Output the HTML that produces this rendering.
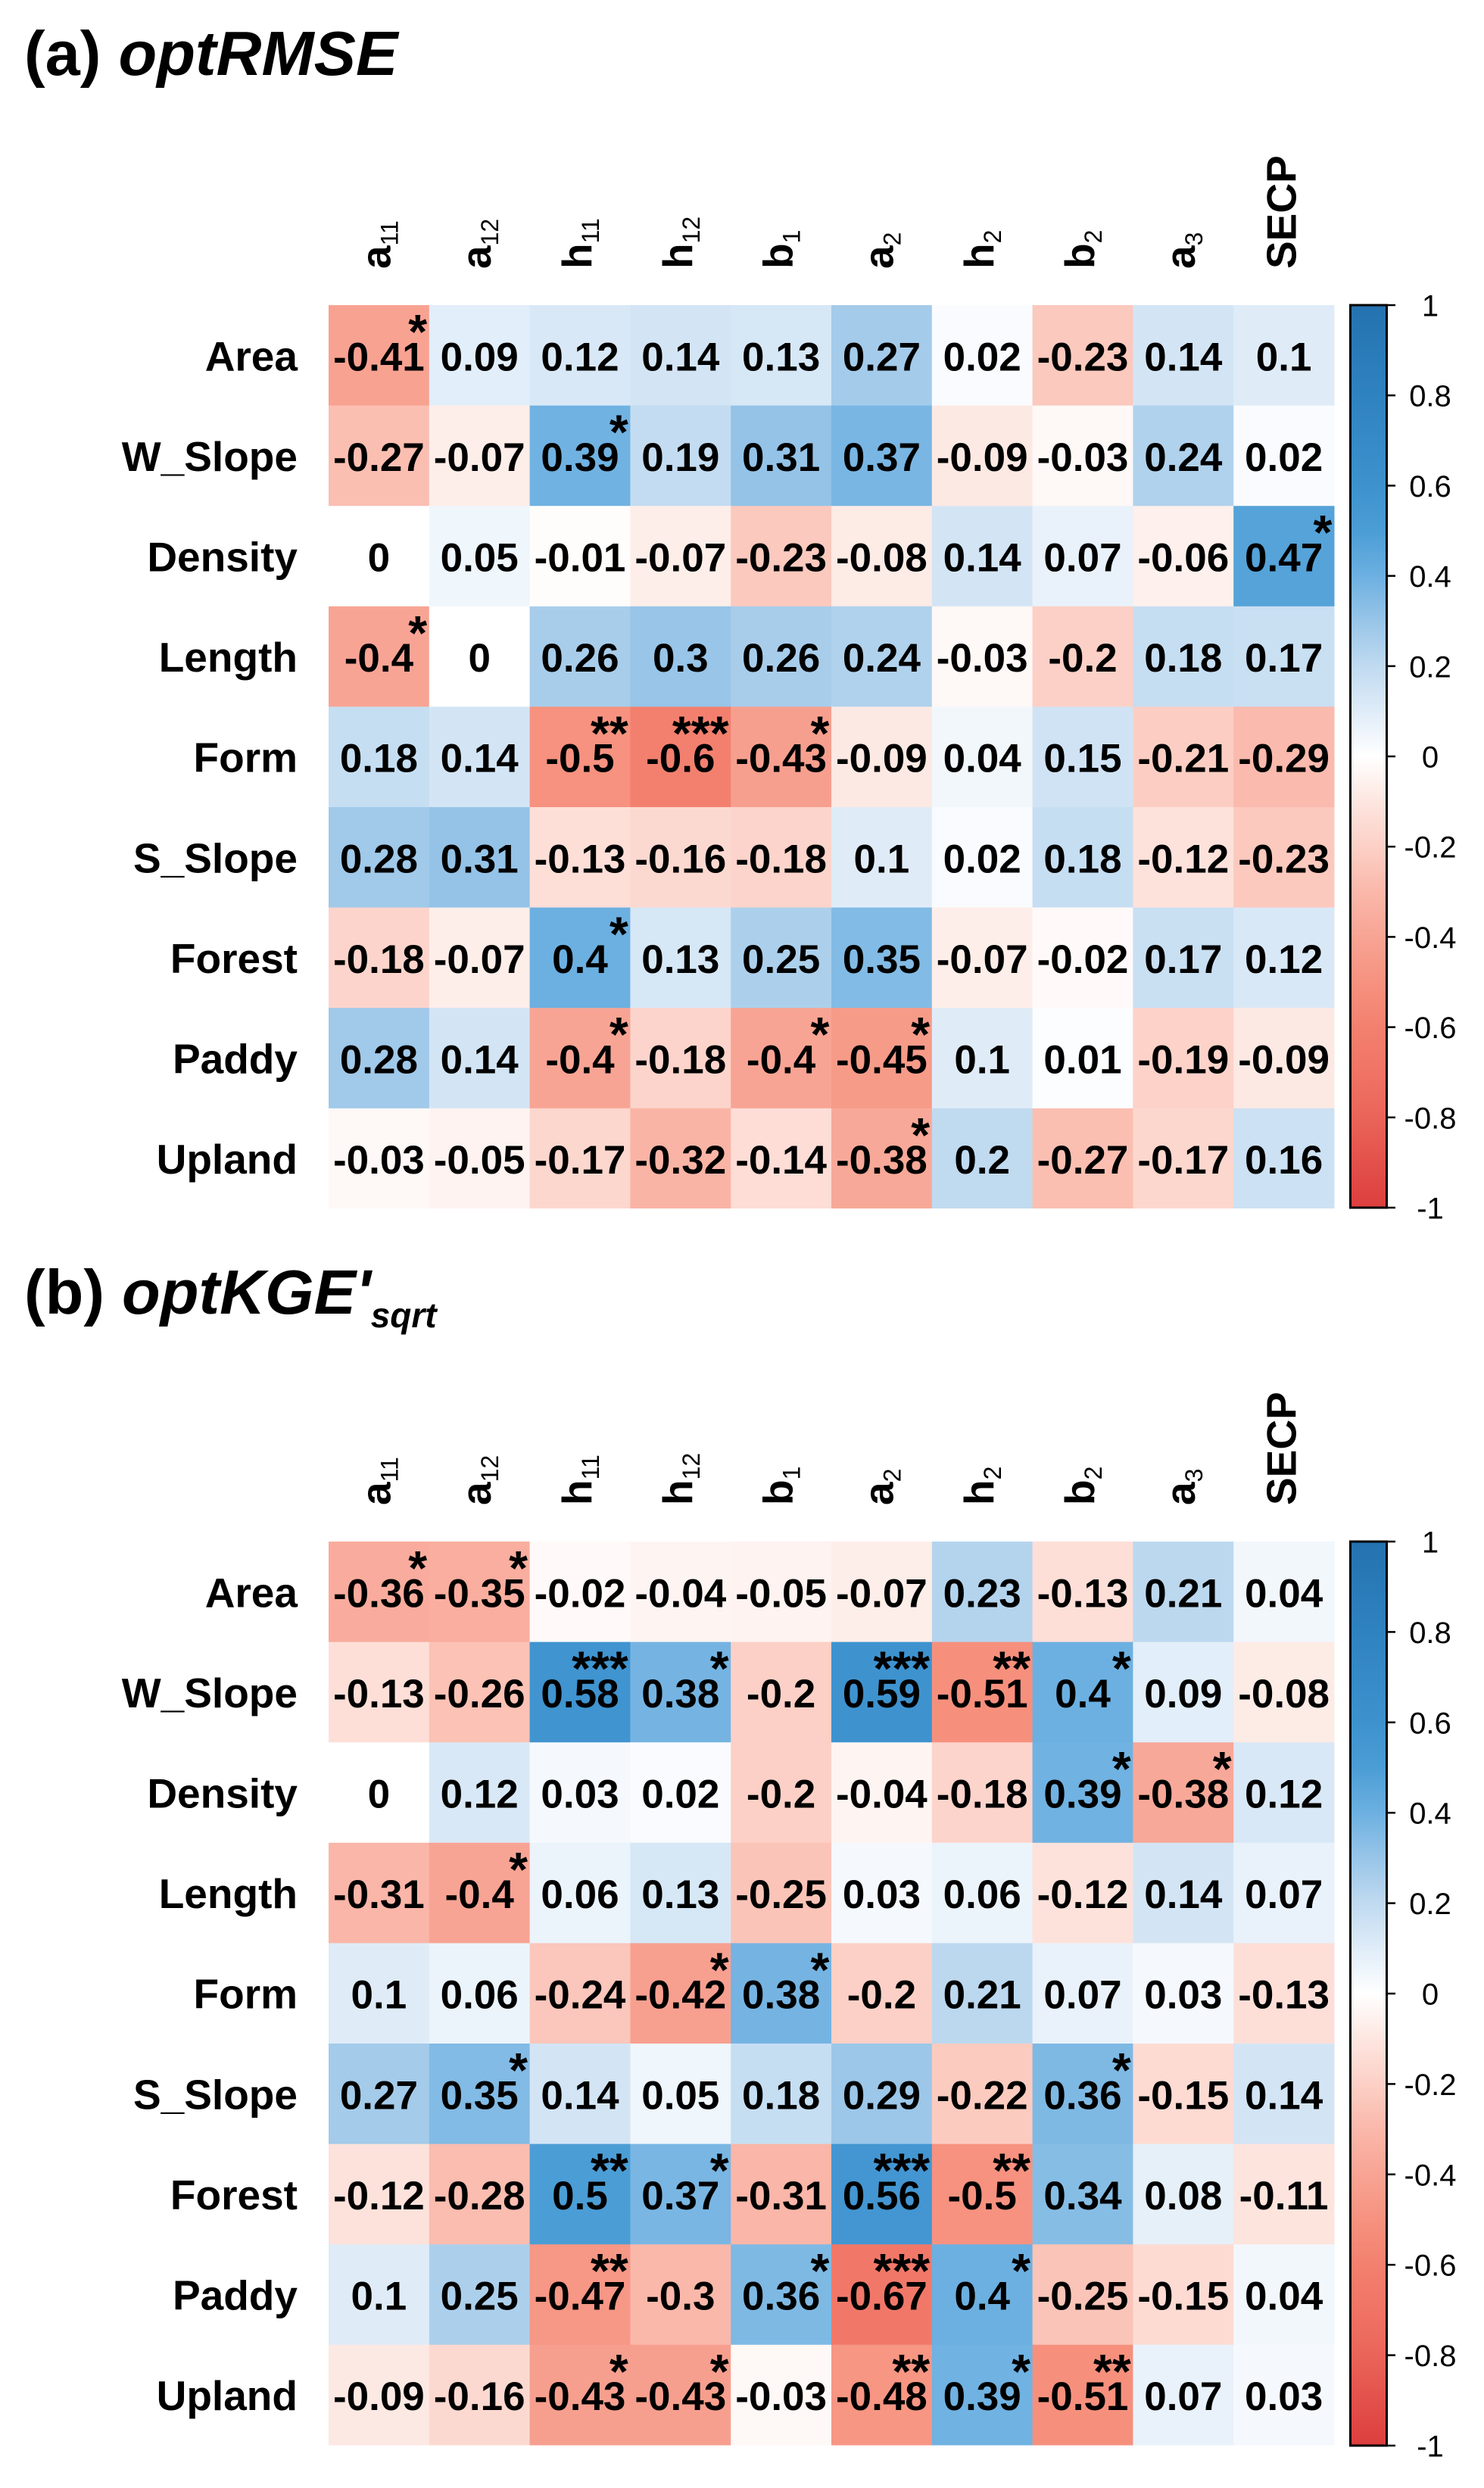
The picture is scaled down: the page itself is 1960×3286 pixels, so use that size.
<!DOCTYPE html>
<html><head><meta charset="utf-8"><style>
html,body{margin:0;padding:0;background:#fff;}
svg{display:block;}
text{font-family:"Liberation Sans",Arial,sans-serif;fill:#000;}
.v{font-size:53px;font-weight:bold;text-anchor:middle;}
.s{font-size:64px;font-weight:bold;text-anchor:end;}
.r{font-size:55px;font-weight:bold;text-anchor:end;}
.c{font-size:55px;font-weight:bold;}
.c tspan{font-size:32px;font-weight:normal;}
.t{font-size:40px;text-anchor:middle;}
.ti{font-size:83px;font-weight:bold;}
</style></head><body>
<svg width="1960" height="3286" viewBox="0 0 1960 3286" xmlns="http://www.w3.org/2000/svg">
<defs>
<linearGradient id="cb" x1="0" y1="0" x2="0" y2="1">
<stop offset="0" stop-color="#2472b0"/><stop offset="0.1" stop-color="#2f82c0"/><stop offset="0.2" stop-color="#3d92ce"/><stop offset="0.25" stop-color="#4b9dd5"/><stop offset="0.3" stop-color="#6cb0e1"/><stop offset="0.35" stop-color="#98c5e8"/><stop offset="0.4" stop-color="#c0daf0"/><stop offset="0.45" stop-color="#dfecf8"/><stop offset="0.5" stop-color="#ffffff"/><stop offset="0.55" stop-color="#fde6e0"/><stop offset="0.6" stop-color="#fcd0c6"/><stop offset="0.65" stop-color="#fab8aa"/><stop offset="0.7" stop-color="#f8a494"/><stop offset="0.75" stop-color="#f6927f"/><stop offset="0.8" stop-color="#f3806f"/><stop offset="0.85" stop-color="#f07466"/><stop offset="0.9" stop-color="#ea6459"/><stop offset="1" stop-color="#dc3e3e"/>
</linearGradient>
</defs>
<rect width="1960" height="3286" fill="#fff"/>

<!-- ================= PANEL A ================= -->
<text class="ti" x="32" y="99">(a) <tspan font-style="italic">optRMSE</tspan></text>

<text class="c" transform="translate(515.4,355) rotate(-90)">a<tspan dy="10">11</tspan></text>
<text class="c" transform="translate(648.2,355) rotate(-90)">a<tspan dy="10">12</tspan></text>
<text class="c" transform="translate(781,355) rotate(-90)">h<tspan dy="10">11</tspan></text>
<text class="c" transform="translate(913.8,355) rotate(-90)">h<tspan dy="10">12</tspan></text>
<text class="c" transform="translate(1046.6,355) rotate(-90)">b<tspan dy="10">1</tspan></text>
<text class="c" transform="translate(1179.4,355) rotate(-90)">a<tspan dy="10">2</tspan></text>
<text class="c" transform="translate(1312.2,355) rotate(-90)">h<tspan dy="10">2</tspan></text>
<text class="c" transform="translate(1445,355) rotate(-90)">b<tspan dy="10">2</tspan></text>
<text class="c" transform="translate(1577.8,355) rotate(-90)">a<tspan dy="10">3</tspan></text>
<text class="c" transform="translate(1711.6,355) rotate(-90)">SECP</text>

<g transform="translate(0,403)">
<rect x="434" width="133.3" height="133.3" fill="#f8a292"/><rect x="566.8" width="133.3" height="133.3" fill="#e2eef9"/><rect x="699.6" width="133.3" height="133.3" fill="#d9e8f6"/><rect x="832.4" width="133.3" height="133.3" fill="#d3e5f5"/><rect x="965.2" width="133.3" height="133.3" fill="#d6e7f6"/><rect x="1098" width="133.3" height="133.3" fill="#a4cbea"/><rect x="1230.8" width="133.3" height="133.3" fill="#f9fbfe"/><rect x="1363.6" width="133.3" height="133.3" fill="#fbc9be"/><rect x="1496.4" width="133.3" height="133.3" fill="#d3e5f5"/><rect x="1629.2" width="133.3" height="133.3" fill="#dfecf8"/>
<text class="r" x="393" y="86.3">Area</text>
<text class="v" x="500.4" y="86.3">-0.41</text><text class="v" x="633.2" y="86.3">0.09</text><text class="v" x="766" y="86.3">0.12</text><text class="v" x="898.8" y="86.3">0.14</text><text class="v" x="1031.6" y="86.3">0.13</text><text class="v" x="1164.4" y="86.3">0.27</text><text class="v" x="1297.2" y="86.3">0.02</text><text class="v" x="1430" y="86.3">-0.23</text><text class="v" x="1562.8" y="86.3">0.14</text><text class="v" x="1695.6" y="86.3">0.1</text>
<text class="s" x="564.2" y="57">*</text>
</g>

<g transform="translate(0,535.6)">
<rect x="434" width="133.3" height="133.3" fill="#fbbfb2"/><rect x="566.8" width="133.3" height="133.3" fill="#feeee9"/><rect x="699.6" width="133.3" height="133.3" fill="#70b2e2"/><rect x="832.4" width="133.3" height="133.3" fill="#c3dcf1"/><rect x="965.2" width="133.3" height="133.3" fill="#94c3e7"/><rect x="1098" width="133.3" height="133.3" fill="#79b6e3"/><rect x="1230.8" width="133.3" height="133.3" fill="#fde9e3"/><rect x="1363.6" width="133.3" height="133.3" fill="#fef8f6"/><rect x="1496.4" width="133.3" height="133.3" fill="#b0d2ed"/><rect x="1629.2" width="133.3" height="133.3" fill="#f9fbfe"/>
<text class="r" x="393" y="86.3">W_Slope</text>
<text class="v" x="500.4" y="86.3">-0.27</text><text class="v" x="633.2" y="86.3">-0.07</text><text class="v" x="766" y="86.3">0.39</text><text class="v" x="898.8" y="86.3">0.19</text><text class="v" x="1031.6" y="86.3">0.31</text><text class="v" x="1164.4" y="86.3">0.37</text><text class="v" x="1297.2" y="86.3">-0.09</text><text class="v" x="1430" y="86.3">-0.03</text><text class="v" x="1562.8" y="86.3">0.24</text><text class="v" x="1695.6" y="86.3">0.02</text>
<text class="s" x="829.8" y="57">*</text>
</g>

<g transform="translate(0,668.2)">
<rect x="434" width="133.3" height="133.3" fill="#ffffff"/><rect x="566.8" width="133.3" height="133.3" fill="#eff6fc"/><rect x="699.6" width="133.3" height="133.3" fill="#fffdfc"/><rect x="832.4" width="133.3" height="133.3" fill="#feeee9"/><rect x="965.2" width="133.3" height="133.3" fill="#fbc9be"/><rect x="1098" width="133.3" height="133.3" fill="#fdebe6"/><rect x="1230.8" width="133.3" height="133.3" fill="#d3e5f5"/><rect x="1363.6" width="133.3" height="133.3" fill="#e9f2fa"/><rect x="1496.4" width="133.3" height="133.3" fill="#fef0ec"/><rect x="1629.2" width="133.3" height="133.3" fill="#55a3d9"/>
<text class="r" x="393" y="86.3">Density</text>
<text class="v" x="500.4" y="86.3">0</text><text class="v" x="633.2" y="86.3">0.05</text><text class="v" x="766" y="86.3">-0.01</text><text class="v" x="898.8" y="86.3">-0.07</text><text class="v" x="1031.6" y="86.3">-0.23</text><text class="v" x="1164.4" y="86.3">-0.08</text><text class="v" x="1297.2" y="86.3">0.14</text><text class="v" x="1430" y="86.3">0.07</text><text class="v" x="1562.8" y="86.3">-0.06</text><text class="v" x="1695.6" y="86.3">0.47</text>
<text class="s" x="1759.4" y="57">*</text>
</g>

<g transform="translate(0,800.8)">
<rect x="434" width="133.3" height="133.3" fill="#f8a494"/><rect x="566.8" width="133.3" height="133.3" fill="#ffffff"/><rect x="699.6" width="133.3" height="133.3" fill="#a8cdeb"/><rect x="832.4" width="133.3" height="133.3" fill="#98c5e8"/><rect x="965.2" width="133.3" height="133.3" fill="#a8cdeb"/><rect x="1098" width="133.3" height="133.3" fill="#b0d2ed"/><rect x="1230.8" width="133.3" height="133.3" fill="#fef8f6"/><rect x="1363.6" width="133.3" height="133.3" fill="#fcd0c6"/><rect x="1496.4" width="133.3" height="133.3" fill="#c6def2"/><rect x="1629.2" width="133.3" height="133.3" fill="#c9dff2"/>
<text class="r" x="393" y="86.3">Length</text>
<text class="v" x="500.4" y="86.3">-0.4</text><text class="v" x="633.2" y="86.3">0</text><text class="v" x="766" y="86.3">0.26</text><text class="v" x="898.8" y="86.3">0.3</text><text class="v" x="1031.6" y="86.3">0.26</text><text class="v" x="1164.4" y="86.3">0.24</text><text class="v" x="1297.2" y="86.3">-0.03</text><text class="v" x="1430" y="86.3">-0.2</text><text class="v" x="1562.8" y="86.3">0.18</text><text class="v" x="1695.6" y="86.3">0.17</text>
<text class="s" x="564.2" y="57">*</text>
</g>

<g transform="translate(0,933.4)">
<rect x="434" width="133.3" height="133.3" fill="#c6def2"/><rect x="566.8" width="133.3" height="133.3" fill="#d3e5f5"/><rect x="699.6" width="133.3" height="133.3" fill="#f6927f"/><rect x="832.4" width="133.3" height="133.3" fill="#f3806f"/><rect x="965.2" width="133.3" height="133.3" fill="#f79f8e"/><rect x="1098" width="133.3" height="133.3" fill="#fde9e3"/><rect x="1230.8" width="133.3" height="133.3" fill="#f2f7fc"/><rect x="1363.6" width="133.3" height="133.3" fill="#d0e3f4"/><rect x="1496.4" width="133.3" height="133.3" fill="#fccec3"/><rect x="1629.2" width="133.3" height="133.3" fill="#fabaad"/>
<text class="r" x="393" y="86.3">Form</text>
<text class="v" x="500.4" y="86.3">0.18</text><text class="v" x="633.2" y="86.3">0.14</text><text class="v" x="766" y="86.3">-0.5</text><text class="v" x="898.8" y="86.3">-0.6</text><text class="v" x="1031.6" y="86.3">-0.43</text><text class="v" x="1164.4" y="86.3">-0.09</text><text class="v" x="1297.2" y="86.3">0.04</text><text class="v" x="1430" y="86.3">0.15</text><text class="v" x="1562.8" y="86.3">-0.21</text><text class="v" x="1695.6" y="86.3">-0.29</text>
<text class="s" x="829.8" y="57">**</text><text class="s" x="962.6" y="57">***</text><text class="s" x="1095.4" y="57">*</text>
</g>

<g transform="translate(0,1066)">
<rect x="434" width="133.3" height="133.3" fill="#a0c9ea"/><rect x="566.8" width="133.3" height="133.3" fill="#94c3e7"/><rect x="699.6" width="133.3" height="133.3" fill="#fddfd8"/><rect x="832.4" width="133.3" height="133.3" fill="#fcd9d0"/><rect x="965.2" width="133.3" height="133.3" fill="#fcd4cb"/><rect x="1098" width="133.3" height="133.3" fill="#dfecf8"/><rect x="1230.8" width="133.3" height="133.3" fill="#f9fbfe"/><rect x="1363.6" width="133.3" height="133.3" fill="#c6def2"/><rect x="1496.4" width="133.3" height="133.3" fill="#fde2db"/><rect x="1629.2" width="133.3" height="133.3" fill="#fbc9be"/>
<text class="r" x="393" y="86.3">S_Slope</text>
<text class="v" x="500.4" y="86.3">0.28</text><text class="v" x="633.2" y="86.3">0.31</text><text class="v" x="766" y="86.3">-0.13</text><text class="v" x="898.8" y="86.3">-0.16</text><text class="v" x="1031.6" y="86.3">-0.18</text><text class="v" x="1164.4" y="86.3">0.1</text><text class="v" x="1297.2" y="86.3">0.02</text><text class="v" x="1430" y="86.3">0.18</text><text class="v" x="1562.8" y="86.3">-0.12</text><text class="v" x="1695.6" y="86.3">-0.23</text>
</g>

<g transform="translate(0,1198.6)">
<rect x="434" width="133.3" height="133.3" fill="#fcd4cb"/><rect x="566.8" width="133.3" height="133.3" fill="#feeee9"/><rect x="699.6" width="133.3" height="133.3" fill="#6cb0e1"/><rect x="832.4" width="133.3" height="133.3" fill="#d6e7f6"/><rect x="965.2" width="133.3" height="133.3" fill="#acd0ec"/><rect x="1098" width="133.3" height="133.3" fill="#82bbe5"/><rect x="1230.8" width="133.3" height="133.3" fill="#feeee9"/><rect x="1363.6" width="133.3" height="133.3" fill="#fffaf9"/><rect x="1496.4" width="133.3" height="133.3" fill="#c9dff2"/><rect x="1629.2" width="133.3" height="133.3" fill="#d9e8f6"/>
<text class="r" x="393" y="86.3">Forest</text>
<text class="v" x="500.4" y="86.3">-0.18</text><text class="v" x="633.2" y="86.3">-0.07</text><text class="v" x="766" y="86.3">0.4</text><text class="v" x="898.8" y="86.3">0.13</text><text class="v" x="1031.6" y="86.3">0.25</text><text class="v" x="1164.4" y="86.3">0.35</text><text class="v" x="1297.2" y="86.3">-0.07</text><text class="v" x="1430" y="86.3">-0.02</text><text class="v" x="1562.8" y="86.3">0.17</text><text class="v" x="1695.6" y="86.3">0.12</text>
<text class="s" x="829.8" y="57">*</text>
</g>

<g transform="translate(0,1331.2)">
<rect x="434" width="133.3" height="133.3" fill="#a0c9ea"/><rect x="566.8" width="133.3" height="133.3" fill="#d3e5f5"/><rect x="699.6" width="133.3" height="133.3" fill="#f8a494"/><rect x="832.4" width="133.3" height="133.3" fill="#fcd4cb"/><rect x="965.2" width="133.3" height="133.3" fill="#f8a494"/><rect x="1098" width="133.3" height="133.3" fill="#f79b89"/><rect x="1230.8" width="133.3" height="133.3" fill="#dfecf8"/><rect x="1363.6" width="133.3" height="133.3" fill="#fcfdfe"/><rect x="1496.4" width="133.3" height="133.3" fill="#fcd2c9"/><rect x="1629.2" width="133.3" height="133.3" fill="#fde9e3"/>
<text class="r" x="393" y="86.3">Paddy</text>
<text class="v" x="500.4" y="86.3">0.28</text><text class="v" x="633.2" y="86.3">0.14</text><text class="v" x="766" y="86.3">-0.4</text><text class="v" x="898.8" y="86.3">-0.18</text><text class="v" x="1031.6" y="86.3">-0.4</text><text class="v" x="1164.4" y="86.3">-0.45</text><text class="v" x="1297.2" y="86.3">0.1</text><text class="v" x="1430" y="86.3">0.01</text><text class="v" x="1562.8" y="86.3">-0.19</text><text class="v" x="1695.6" y="86.3">-0.09</text>
<text class="s" x="829.8" y="57">*</text><text class="s" x="1095.4" y="57">*</text><text class="s" x="1228.2" y="57">*</text>
</g>

<g transform="translate(0,1463.8)">
<rect x="434" width="133.3" height="132.3" fill="#fef8f6"/><rect x="566.8" width="133.3" height="132.3" fill="#fef3f0"/><rect x="699.6" width="133.3" height="132.3" fill="#fcd7ce"/><rect x="832.4" width="133.3" height="132.3" fill="#fab4a6"/><rect x="965.2" width="133.3" height="132.3" fill="#fdddd6"/><rect x="1098" width="133.3" height="132.3" fill="#f8a898"/><rect x="1230.8" width="133.3" height="132.3" fill="#c0daf0"/><rect x="1363.6" width="133.3" height="132.3" fill="#fbbfb2"/><rect x="1496.4" width="133.3" height="132.3" fill="#fcd7ce"/><rect x="1629.2" width="133.3" height="132.3" fill="#cce1f3"/>
<text class="r" x="393" y="86.3">Upland</text>
<text class="v" x="500.4" y="86.3">-0.03</text><text class="v" x="633.2" y="86.3">-0.05</text><text class="v" x="766" y="86.3">-0.17</text><text class="v" x="898.8" y="86.3">-0.32</text><text class="v" x="1031.6" y="86.3">-0.14</text><text class="v" x="1164.4" y="86.3">-0.38</text><text class="v" x="1297.2" y="86.3">0.2</text><text class="v" x="1430" y="86.3">-0.27</text><text class="v" x="1562.8" y="86.3">-0.17</text><text class="v" x="1695.6" y="86.3">0.16</text>
<text class="s" x="1228.2" y="57">*</text>
</g>

<!-- colorbar a -->
<rect x="1783.5" y="403" width="48" height="1192" fill="url(#cb)" stroke="#000" stroke-width="3"/>
<g stroke="#000" stroke-width="2.5">
<line x1="1832" y1="403" x2="1843" y2="403"/><line x1="1832" y1="522.2" x2="1843" y2="522.2"/><line x1="1832" y1="641.4" x2="1843" y2="641.4"/><line x1="1832" y1="760.6" x2="1843" y2="760.6"/><line x1="1832" y1="879.8" x2="1843" y2="879.8"/><line x1="1832" y1="999" x2="1843" y2="999"/><line x1="1832" y1="1118.2" x2="1843" y2="1118.2"/><line x1="1832" y1="1237.4" x2="1843" y2="1237.4"/><line x1="1832" y1="1356.6" x2="1843" y2="1356.6"/><line x1="1832" y1="1475.8" x2="1843" y2="1475.8"/><line x1="1832" y1="1595" x2="1843" y2="1595"/>
</g>
<text class="t" x="1889" y="417.5">1</text><text class="t" x="1889" y="536.7">0.8</text><text class="t" x="1889" y="655.9">0.6</text><text class="t" x="1889" y="775.1">0.4</text><text class="t" x="1889" y="894.3">0.2</text><text class="t" x="1889" y="1013.5">0</text><text class="t" x="1889" y="1132.7">-0.2</text><text class="t" x="1889" y="1251.9">-0.4</text><text class="t" x="1889" y="1371.1">-0.6</text><text class="t" x="1889" y="1490.3">-0.8</text><text class="t" x="1889" y="1609.5">-1</text>

<!-- ================= PANEL B ================= -->
<text class="ti" x="32" y="1735">(b) <tspan font-style="italic">optKGE'</tspan><tspan font-style="italic" font-size="46" dy="18">sqrt</tspan></text>

<text class="c" transform="translate(515.4,1988) rotate(-90)">a<tspan dy="10">11</tspan></text>
<text class="c" transform="translate(648.2,1988) rotate(-90)">a<tspan dy="10">12</tspan></text>
<text class="c" transform="translate(781,1988) rotate(-90)">h<tspan dy="10">11</tspan></text>
<text class="c" transform="translate(913.8,1988) rotate(-90)">h<tspan dy="10">12</tspan></text>
<text class="c" transform="translate(1046.6,1988) rotate(-90)">b<tspan dy="10">1</tspan></text>
<text class="c" transform="translate(1179.4,1988) rotate(-90)">a<tspan dy="10">2</tspan></text>
<text class="c" transform="translate(1312.2,1988) rotate(-90)">h<tspan dy="10">2</tspan></text>
<text class="c" transform="translate(1445,1988) rotate(-90)">b<tspan dy="10">2</tspan></text>
<text class="c" transform="translate(1577.8,1988) rotate(-90)">a<tspan dy="10">3</tspan></text>
<text class="c" transform="translate(1711.6,1988) rotate(-90)">SECP</text>

<g transform="translate(0,2036)">
<rect x="434" width="133.3" height="133.3" fill="#f9ac9d"/><rect x="566.8" width="133.3" height="133.3" fill="#f9ae9f"/><rect x="699.6" width="133.3" height="133.3" fill="#fffaf9"/><rect x="832.4" width="133.3" height="133.3" fill="#fef5f3"/><rect x="965.2" width="133.3" height="133.3" fill="#fef3f0"/><rect x="1098" width="133.3" height="133.3" fill="#feeee9"/><rect x="1230.8" width="133.3" height="133.3" fill="#b4d4ee"/><rect x="1363.6" width="133.3" height="133.3" fill="#fddfd8"/><rect x="1496.4" width="133.3" height="133.3" fill="#bcd8ef"/><rect x="1629.2" width="133.3" height="133.3" fill="#f2f7fc"/>
<text class="r" x="393" y="86.3">Area</text>
<text class="v" x="500.4" y="86.3">-0.36</text><text class="v" x="633.2" y="86.3">-0.35</text><text class="v" x="766" y="86.3">-0.02</text><text class="v" x="898.8" y="86.3">-0.04</text><text class="v" x="1031.6" y="86.3">-0.05</text><text class="v" x="1164.4" y="86.3">-0.07</text><text class="v" x="1297.2" y="86.3">0.23</text><text class="v" x="1430" y="86.3">-0.13</text><text class="v" x="1562.8" y="86.3">0.21</text><text class="v" x="1695.6" y="86.3">0.04</text>
<text class="s" x="564.2" y="57">*</text><text class="s" x="697" y="57">*</text>
</g>

<g transform="translate(0,2168.6)">
<rect x="434" width="133.3" height="133.3" fill="#fddfd8"/><rect x="566.8" width="133.3" height="133.3" fill="#fbc2b5"/><rect x="699.6" width="133.3" height="133.3" fill="#4094cf"/><rect x="832.4" width="133.3" height="133.3" fill="#75b4e2"/><rect x="965.2" width="133.3" height="133.3" fill="#fcd0c6"/><rect x="1098" width="133.3" height="133.3" fill="#3e93cf"/><rect x="1230.8" width="133.3" height="133.3" fill="#f6907d"/><rect x="1363.6" width="133.3" height="133.3" fill="#6cb0e1"/><rect x="1496.4" width="133.3" height="133.3" fill="#e2eef9"/><rect x="1629.2" width="133.3" height="133.3" fill="#fdebe6"/>
<text class="r" x="393" y="86.3">W_Slope</text>
<text class="v" x="500.4" y="86.3">-0.13</text><text class="v" x="633.2" y="86.3">-0.26</text><text class="v" x="766" y="86.3">0.58</text><text class="v" x="898.8" y="86.3">0.38</text><text class="v" x="1031.6" y="86.3">-0.2</text><text class="v" x="1164.4" y="86.3">0.59</text><text class="v" x="1297.2" y="86.3">-0.51</text><text class="v" x="1430" y="86.3">0.4</text><text class="v" x="1562.8" y="86.3">0.09</text><text class="v" x="1695.6" y="86.3">-0.08</text>
<text class="s" x="829.8" y="57">***</text><text class="s" x="962.6" y="57">*</text><text class="s" x="1228.2" y="57">***</text><text class="s" x="1361" y="57">**</text><text class="s" x="1493.8" y="57">*</text>
</g>

<g transform="translate(0,2301.2)">
<rect x="434" width="133.3" height="133.3" fill="#ffffff"/><rect x="566.8" width="133.3" height="133.3" fill="#d9e8f6"/><rect x="699.6" width="133.3" height="133.3" fill="#f5f9fd"/><rect x="832.4" width="133.3" height="133.3" fill="#f9fbfe"/><rect x="965.2" width="133.3" height="133.3" fill="#fcd0c6"/><rect x="1098" width="133.3" height="133.3" fill="#fef5f3"/><rect x="1230.8" width="133.3" height="133.3" fill="#fcd4cb"/><rect x="1363.6" width="133.3" height="133.3" fill="#70b2e2"/><rect x="1496.4" width="133.3" height="133.3" fill="#f8a898"/><rect x="1629.2" width="133.3" height="133.3" fill="#d9e8f6"/>
<text class="r" x="393" y="86.3">Density</text>
<text class="v" x="500.4" y="86.3">0</text><text class="v" x="633.2" y="86.3">0.12</text><text class="v" x="766" y="86.3">0.03</text><text class="v" x="898.8" y="86.3">0.02</text><text class="v" x="1031.6" y="86.3">-0.2</text><text class="v" x="1164.4" y="86.3">-0.04</text><text class="v" x="1297.2" y="86.3">-0.18</text><text class="v" x="1430" y="86.3">0.39</text><text class="v" x="1562.8" y="86.3">-0.38</text><text class="v" x="1695.6" y="86.3">0.12</text>
<text class="s" x="1493.8" y="57">*</text><text class="s" x="1626.6" y="57">*</text>
</g>

<g transform="translate(0,2433.8)">
<rect x="434" width="133.3" height="133.3" fill="#fab6a8"/><rect x="566.8" width="133.3" height="133.3" fill="#f8a494"/><rect x="699.6" width="133.3" height="133.3" fill="#ecf4fb"/><rect x="832.4" width="133.3" height="133.3" fill="#d6e7f6"/><rect x="965.2" width="133.3" height="133.3" fill="#fbc4b8"/><rect x="1098" width="133.3" height="133.3" fill="#f5f9fd"/><rect x="1230.8" width="133.3" height="133.3" fill="#ecf4fb"/><rect x="1363.6" width="133.3" height="133.3" fill="#fde2db"/><rect x="1496.4" width="133.3" height="133.3" fill="#d3e5f5"/><rect x="1629.2" width="133.3" height="133.3" fill="#e9f2fa"/>
<text class="r" x="393" y="86.3">Length</text>
<text class="v" x="500.4" y="86.3">-0.31</text><text class="v" x="633.2" y="86.3">-0.4</text><text class="v" x="766" y="86.3">0.06</text><text class="v" x="898.8" y="86.3">0.13</text><text class="v" x="1031.6" y="86.3">-0.25</text><text class="v" x="1164.4" y="86.3">0.03</text><text class="v" x="1297.2" y="86.3">0.06</text><text class="v" x="1430" y="86.3">-0.12</text><text class="v" x="1562.8" y="86.3">0.14</text><text class="v" x="1695.6" y="86.3">0.07</text>
<text class="s" x="697" y="57">*</text>
</g>

<g transform="translate(0,2566.4)">
<rect x="434" width="133.3" height="133.3" fill="#dfecf8"/><rect x="566.8" width="133.3" height="133.3" fill="#ecf4fb"/><rect x="699.6" width="133.3" height="133.3" fill="#fbc6bb"/><rect x="832.4" width="133.3" height="133.3" fill="#f8a090"/><rect x="965.2" width="133.3" height="133.3" fill="#75b4e2"/><rect x="1098" width="133.3" height="133.3" fill="#fcd0c6"/><rect x="1230.8" width="133.3" height="133.3" fill="#bcd8ef"/><rect x="1363.6" width="133.3" height="133.3" fill="#e9f2fa"/><rect x="1496.4" width="133.3" height="133.3" fill="#f5f9fd"/><rect x="1629.2" width="133.3" height="133.3" fill="#fddfd8"/>
<text class="r" x="393" y="86.3">Form</text>
<text class="v" x="500.4" y="86.3">0.1</text><text class="v" x="633.2" y="86.3">0.06</text><text class="v" x="766" y="86.3">-0.24</text><text class="v" x="898.8" y="86.3">-0.42</text><text class="v" x="1031.6" y="86.3">0.38</text><text class="v" x="1164.4" y="86.3">-0.2</text><text class="v" x="1297.2" y="86.3">0.21</text><text class="v" x="1430" y="86.3">0.07</text><text class="v" x="1562.8" y="86.3">0.03</text><text class="v" x="1695.6" y="86.3">-0.13</text>
<text class="s" x="962.6" y="57">*</text><text class="s" x="1095.4" y="57">*</text>
</g>

<g transform="translate(0,2699)">
<rect x="434" width="133.3" height="133.3" fill="#a4cbea"/><rect x="566.8" width="133.3" height="133.3" fill="#82bbe5"/><rect x="699.6" width="133.3" height="133.3" fill="#d3e5f5"/><rect x="832.4" width="133.3" height="133.3" fill="#eff6fc"/><rect x="965.2" width="133.3" height="133.3" fill="#c6def2"/><rect x="1098" width="133.3" height="133.3" fill="#9cc7e9"/><rect x="1230.8" width="133.3" height="133.3" fill="#fccbc0"/><rect x="1363.6" width="133.3" height="133.3" fill="#7eb9e4"/><rect x="1496.4" width="133.3" height="133.3" fill="#fddbd3"/><rect x="1629.2" width="133.3" height="133.3" fill="#d3e5f5"/>
<text class="r" x="393" y="86.3">S_Slope</text>
<text class="v" x="500.4" y="86.3">0.27</text><text class="v" x="633.2" y="86.3">0.35</text><text class="v" x="766" y="86.3">0.14</text><text class="v" x="898.8" y="86.3">0.05</text><text class="v" x="1031.6" y="86.3">0.18</text><text class="v" x="1164.4" y="86.3">0.29</text><text class="v" x="1297.2" y="86.3">-0.22</text><text class="v" x="1430" y="86.3">0.36</text><text class="v" x="1562.8" y="86.3">-0.15</text><text class="v" x="1695.6" y="86.3">0.14</text>
<text class="s" x="697" y="57">*</text><text class="s" x="1493.8" y="57">*</text>
</g>

<g transform="translate(0,2831.6)">
<rect x="434" width="133.3" height="133.3" fill="#fde2db"/><rect x="566.8" width="133.3" height="133.3" fill="#fabdb0"/><rect x="699.6" width="133.3" height="133.3" fill="#4b9dd5"/><rect x="832.4" width="133.3" height="133.3" fill="#79b6e3"/><rect x="965.2" width="133.3" height="133.3" fill="#fab6a8"/><rect x="1098" width="133.3" height="133.3" fill="#4396d1"/><rect x="1230.8" width="133.3" height="133.3" fill="#f6927f"/><rect x="1363.6" width="133.3" height="133.3" fill="#86bde5"/><rect x="1496.4" width="133.3" height="133.3" fill="#e5f0f9"/><rect x="1629.2" width="133.3" height="133.3" fill="#fde4dd"/>
<text class="r" x="393" y="86.3">Forest</text>
<text class="v" x="500.4" y="86.3">-0.12</text><text class="v" x="633.2" y="86.3">-0.28</text><text class="v" x="766" y="86.3">0.5</text><text class="v" x="898.8" y="86.3">0.37</text><text class="v" x="1031.6" y="86.3">-0.31</text><text class="v" x="1164.4" y="86.3">0.56</text><text class="v" x="1297.2" y="86.3">-0.5</text><text class="v" x="1430" y="86.3">0.34</text><text class="v" x="1562.8" y="86.3">0.08</text><text class="v" x="1695.6" y="86.3">-0.11</text>
<text class="s" x="829.8" y="57">**</text><text class="s" x="962.6" y="57">*</text><text class="s" x="1228.2" y="57">***</text><text class="s" x="1361" y="57">**</text>
</g>

<g transform="translate(0,2964.2)">
<rect x="434" width="133.3" height="133.3" fill="#dfecf8"/><rect x="566.8" width="133.3" height="133.3" fill="#acd0ec"/><rect x="699.6" width="133.3" height="133.3" fill="#f79785"/><rect x="832.4" width="133.3" height="133.3" fill="#fab8aa"/><rect x="965.2" width="133.3" height="133.3" fill="#7eb9e4"/><rect x="1098" width="133.3" height="133.3" fill="#f17869"/><rect x="1230.8" width="133.3" height="133.3" fill="#6cb0e1"/><rect x="1363.6" width="133.3" height="133.3" fill="#fbc4b8"/><rect x="1496.4" width="133.3" height="133.3" fill="#fddbd3"/><rect x="1629.2" width="133.3" height="133.3" fill="#f2f7fc"/>
<text class="r" x="393" y="86.3">Paddy</text>
<text class="v" x="500.4" y="86.3">0.1</text><text class="v" x="633.2" y="86.3">0.25</text><text class="v" x="766" y="86.3">-0.47</text><text class="v" x="898.8" y="86.3">-0.3</text><text class="v" x="1031.6" y="86.3">0.36</text><text class="v" x="1164.4" y="86.3">-0.67</text><text class="v" x="1297.2" y="86.3">0.4</text><text class="v" x="1430" y="86.3">-0.25</text><text class="v" x="1562.8" y="86.3">-0.15</text><text class="v" x="1695.6" y="86.3">0.04</text>
<text class="s" x="829.8" y="57">**</text><text class="s" x="1095.4" y="57">*</text><text class="s" x="1228.2" y="57">***</text><text class="s" x="1361" y="57">*</text>
</g>

<g transform="translate(0,3096.8)">
<rect x="434" width="133.3" height="132.8" fill="#fde9e3"/><rect x="566.8" width="133.3" height="132.8" fill="#fcd9d0"/><rect x="699.6" width="133.3" height="132.8" fill="#f79f8e"/><rect x="832.4" width="133.3" height="132.8" fill="#f79f8e"/><rect x="965.2" width="133.3" height="132.8" fill="#fef8f6"/><rect x="1098" width="133.3" height="132.8" fill="#f69683"/><rect x="1230.8" width="133.3" height="132.8" fill="#70b2e2"/><rect x="1363.6" width="133.3" height="132.8" fill="#f6907d"/><rect x="1496.4" width="133.3" height="132.8" fill="#e9f2fa"/><rect x="1629.2" width="133.3" height="132.8" fill="#f5f9fd"/>
<text class="r" x="393" y="86.3">Upland</text>
<text class="v" x="500.4" y="86.3">-0.09</text><text class="v" x="633.2" y="86.3">-0.16</text><text class="v" x="766" y="86.3">-0.43</text><text class="v" x="898.8" y="86.3">-0.43</text><text class="v" x="1031.6" y="86.3">-0.03</text><text class="v" x="1164.4" y="86.3">-0.48</text><text class="v" x="1297.2" y="86.3">0.39</text><text class="v" x="1430" y="86.3">-0.51</text><text class="v" x="1562.8" y="86.3">0.07</text><text class="v" x="1695.6" y="86.3">0.03</text>
<text class="s" x="829.8" y="57">*</text><text class="s" x="962.6" y="57">*</text><text class="s" x="1228.2" y="57">**</text><text class="s" x="1361" y="57">*</text><text class="s" x="1493.8" y="57">**</text>
</g>

<!-- colorbar b -->
<rect x="1783.5" y="2036" width="48" height="1194" fill="url(#cb)" stroke="#000" stroke-width="3"/>
<g stroke="#000" stroke-width="2.5">
<line x1="1832" y1="2036" x2="1843" y2="2036"/><line x1="1832" y1="2155.4" x2="1843" y2="2155.4"/><line x1="1832" y1="2274.8" x2="1843" y2="2274.8"/><line x1="1832" y1="2394.2" x2="1843" y2="2394.2"/><line x1="1832" y1="2513.6" x2="1843" y2="2513.6"/><line x1="1832" y1="2633" x2="1843" y2="2633"/><line x1="1832" y1="2752.4" x2="1843" y2="2752.4"/><line x1="1832" y1="2871.8" x2="1843" y2="2871.8"/><line x1="1832" y1="2991.2" x2="1843" y2="2991.2"/><line x1="1832" y1="3110.6" x2="1843" y2="3110.6"/><line x1="1832" y1="3230" x2="1843" y2="3230"/>
</g>
<text class="t" x="1889" y="2050.5">1</text><text class="t" x="1889" y="2169.9">0.8</text><text class="t" x="1889" y="2289.3">0.6</text><text class="t" x="1889" y="2408.7">0.4</text><text class="t" x="1889" y="2528.1">0.2</text><text class="t" x="1889" y="2647.5">0</text><text class="t" x="1889" y="2766.9">-0.2</text><text class="t" x="1889" y="2886.3">-0.4</text><text class="t" x="1889" y="3005.7">-0.6</text><text class="t" x="1889" y="3125.1">-0.8</text><text class="t" x="1889" y="3244.5">-1</text>
</svg>
</body></html>
